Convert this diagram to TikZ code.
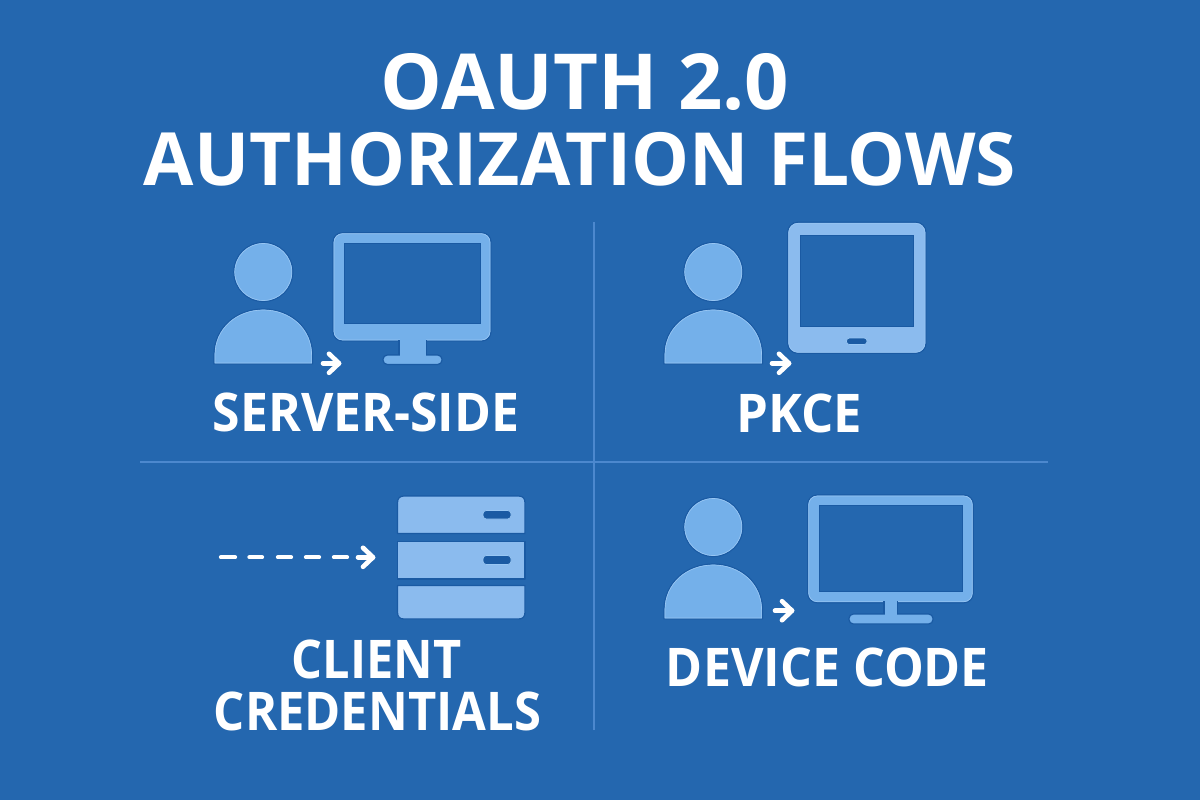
\documentclass[tikz,border=0pt]{standalone}
\usepackage{fontspec}
\setmainfont{Open Sans}
\usetikzlibrary{calc}
\definecolor{bgblue}{HTML}{2467AF}
\definecolor{icona}{HTML}{74B0EA}
\definecolor{iconb}{HTML}{8BBBEE}
\definecolor{edgedark}{HTML}{1A5AA3}
\definecolor{edgelight}{HTML}{98C6F3}
\definecolor{rulecol}{HTML}{4C88CE}
\tikzset{
  px/.style={x=0.75pt,y=-0.75pt},
  shapea/.style={fill=icona,draw=edgedark,line width=0.9pt,line join=round},
  shapeb/.style={fill=iconb,draw=edgedark,line width=0.9pt,line join=round},
  inset/.style={draw=edgelight,line width=0.5pt},
  hole/.style={fill=bgblue,draw=edgedark,line width=0.7pt},
  sliver/.style={fill=edgedark,draw=edgelight,line width=0.5pt},
  divider/.style={draw=rulecol,line width=1.4pt},
  whitearrow/.style={draw=white,line width=3.5pt,line cap=round,line join=round},
  titletext/.style={text=white,font=\bfseries,inner sep=0pt,anchor=center},
  labeltext/.style={text=white,font=\bfseries\fontsize{40}{40}\selectfont,inner sep=0pt,anchor=center}
}
\newcommand{\personicon}[2]{% centre x, body bottom y
  \begin{scope}[shift={(#1,#2)}]
    \draw[shapea] (0,-92) circle[radius=29.5];
    \draw[inset] (0,-92) circle[radius=28.5];
    \draw[shapea] (-49.3,0) -- (-49.3,-9) .. controls (-49.3,-36) and (-27,-55) .. (0,-55) .. controls (27,-55) and (49.3,-36) .. (49.3,-9) -- (49.3,0) -- cycle;
    \draw[inset] (-48.3,-1) -- (-48.3,-9) .. controls (-48.3,-35.5) and (-26.5,-54) .. (0,-54) .. controls (26.5,-54) and (48.3,-35.5) .. (48.3,-9) -- (48.3,-1) -- cycle;
  \end{scope}}
\newcommand{\arrowicon}[4]{% name, tail x, tip x, y
  \coordinate (tail#1) at (#2,#4);
  \coordinate (tip#1) at (#3,#4);
  \draw[whitearrow] (tail#1) -- (tip#1);
  \draw[whitearrow] ($(tip#1)+(-10,-9.5)$) -- (tip#1) -- ($(tip#1)+(-10,9.5)$);}
\begin{document}
\begin{tikzpicture}[px]
\useasboundingbox (0,0) rectangle (1200,800);
\fill[bgblue] (0,0) rectangle (1200,800);
% title
\node[titletext,xscale=1.005] (title1) at (585,82) {\fontsize{58}{58}\selectfont OAUTH 2.0};
\node[titletext,xscale=0.995] (title2) at (580,159) {\fontsize{55}{55}\selectfont AUTHORIZATION FLOWS};
% dividers
\coordinate (vtop) at (594,222);
\coordinate (vbot) at (594,730);
\coordinate (hleft) at (140,462);
\coordinate (hright) at (1048,462);
\draw[divider] (vtop) -- (vbot);
\draw[divider] (hleft) -- (hright);
% panel 1
\personicon{263.3}{364}
\draw[shapea,rounded corners=7pt] (333,232.7) rectangle (491,341);
\draw[inset,rounded corners=6.4pt] (334,233.7) rectangle (490,340);
\draw[hole] (344.7,243) rectangle (480,323);
\draw[shapea] (399,340) -- (399,355) -- (426,355) -- (426,340);
\fill[icona] (399.5,338) rectangle (425.5,356);
\draw[shapea,rounded corners=3.3pt] (383,355) rectangle (442,364.5);
\fill[icona] (399.5,354) rectangle (425.5,357);
\arrowicon{a}{323}{339}{363.3}
\node[labeltext,xscale=0.935] (lab1) at (366,412) {SERVER-SIDE};
% panel 2
\personicon{713.3}{364}
\draw[shapeb,rounded corners=7.5pt] (787.7,222.3) rectangle (926,353.3);
\draw[inset,rounded corners=7pt] (788.7,223.3) rectangle (925,352.3);
\draw[hole] (800,235) rectangle (913.5,326);
\draw[sliver,rounded corners=2.2pt] (846.5,338) rectangle (867,344.5);
\arrowicon{b}{772}{789}{363.3}
\node[labeltext,xscale=0.953] (lab2) at (799.5,413.5) {PKCE};
% panel 3
\foreach \a/\b in {221/235,249.5/262,278/291,306/319,334/347}
  \draw[whitearrow,line width=3.2pt] (\a,557.3) -- (\b,557.3);
\arrowicon{c}{358}{373}{557.3}
\draw[shapeb] (397.5,533.5) -- (397.5,503) .. controls (397.5,498.5) and (399.5,496) .. (404,496) -- (518.5,496) .. controls (523,496) and (525,498.5) .. (525,503) -- (525,533.5) -- cycle;
\draw[shapeb] (397.5,541.5) rectangle (525,579);
\draw[shapeb] (397.5,585.5) -- (397.5,612) .. controls (397.5,616.5) and (399.5,619) .. (404,619) -- (518.5,619) .. controls (523,619) and (525,616.5) .. (525,612) -- (525,585.5) -- cycle;
\draw[sliver,rounded corners=2.5pt] (483,510.5) rectangle (511,519);
\draw[sliver,rounded corners=2.5pt] (483,555.5) rectangle (511,564.5);
\node[labeltext,xscale=0.913] (lab3a) at (376.5,659) {CLIENT};
\node[labeltext,xscale=0.918] (lab3b) at (377.5,711) {CREDENTIALS};
% panel 4
\personicon{713.3}{619}
\draw[shapea,rounded corners=7pt] (807.7,495) rectangle (973.3,602.7);
\draw[inset,rounded corners=6.4pt] (808.7,496) rectangle (972.3,601.7);
\draw[hole] (819,505.5) rectangle (962,591);
\draw[shapea] (884,601) -- (884,614) -- (897,614) -- (897,601);
\fill[icona] (884.5,600) rectangle (896.5,615);
\draw[shapea,rounded corners=3.3pt] (849,614) rectangle (933,624);
\fill[icona] (884.5,613) rectangle (896.5,616);
\arrowicon{d}{775}{792}{610.7}
\node[labeltext,xscale=0.939] (lab4) at (827.5,667) {DEVICE CODE};
\end{tikzpicture}
\end{document}
